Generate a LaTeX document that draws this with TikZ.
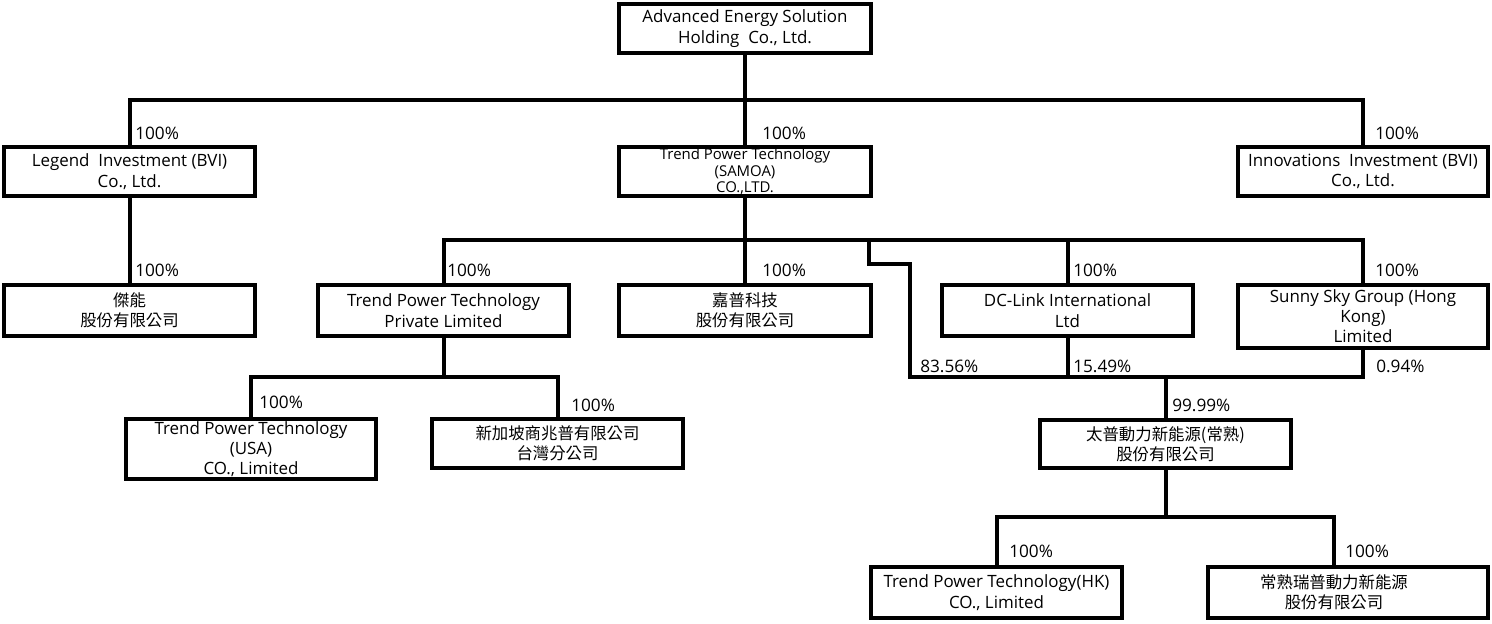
\documentclass[tikz,border=0pt]{standalone}
\usepackage{fontspec}
\setmainfont{Open Sans}
\newfontfamily\cjk{Noto Sans CJK TC}
\newcommand\mainfs{\fontsize{12.7}{15.3}\selectfont}
\newcommand\cjkfs{\cjk\fontsize{12.3}{15.3}\selectfont}
\begin{document}
\begin{tikzpicture}[x=0.75pt,y=-0.75pt,
  box/.style n args={2}{draw, line width=3pt, minimum width={(#1-4)*0.75pt}, minimum height={(#2-4)*0.75pt}, inner sep=0pt, align=center, font=\mainfs},
  cjkbox/.style n args={2}{box={#1}{#2}, font=\cjkfs},
  ln/.style={line width=3pt},
  pct/.style={anchor=west, inner sep=0pt, font=\fontsize{12.9}{14}\selectfont}]
\useasboundingbox (0,0) rectangle (1492,624);

% boxes
\node[box={256}{53}] (aes) at (745,28.5) {Advanced Energy Solution\\Holding\ \ Co., Ltd.};
\node[box={255}{53}] (leg) at (129.5,171.5) {Legend\ \ Investment (BVI)\\Co., Ltd.};
\node[box={256}{53}, font=\fontsize{11.2}{12.4}\selectfont] (samoa) at (745,171.5) {Trend Power Technology\\(SAMOA)\\CO.,LTD.};
\node[box={254}{53}] (inn) at (1363,171.5) {Innovations\ \ Investment (BVI)\\Co., Ltd.};
\node[cjkbox={255}{55}] (jie) at (129.5,310.5) {傑能\\股份有限公司};
\node[box={255}{55}] (tpp) at (443.5,310.5) {Trend Power Technology\\Private Limited};
\node[cjkbox={256}{55}] (jia) at (745,310.5) {嘉普科技\\股份有限公司};
\node[box={255}{55}] (dc) at (1067.5,310.5) {DC-Link International\\Ltd};
\node[box={254}{67}, font=\fontsize{12.7}{15}\selectfont] (sunny) at (1363,316.5) {Sunny Sky Group (Hong\\Kong)\\Limited};
\node[box={254}{64}, font=\fontsize{12.7}{15}\selectfont] (usa) at (251,449) {Trend Power Technology\\(USA)\\CO., Limited};
\node[cjkbox={255}{53}] (sg) at (557.5,443.5) {新加坡商兆普有限公司\\台灣分公司};
\node[cjkbox={255}{52}] (tai) at (1165.5,444) {太普動力新能源(常熟)\\股份有限公司};
\node[box={255}{55}] (hk) at (996.5,592.5) {Trend Power Technology(HK)\\CO., Limited};
\node[box={284}{55}] (cs) at (1348,592.5) {};
\node[inner sep=0pt, align=center, font=\cjkfs] (cst) at (1334,592.5) {常熟瑞普動力新能源\\股份有限公司};

% bus coordinates
\coordinate (b1) at (0,100);
\coordinate (b2) at (0,240);
\coordinate (b3) at (0,377);
\coordinate (b4) at (0,517);
\coordinate (j1) at (869,240);
\coordinate (j2) at (910,264);

% connectors
\draw[ln] (leg.north) -- (leg.north |- b1) -- (inn.north |- b1) -- (inn.north);
\draw[ln] (aes.south) -- (samoa.north);
\draw[ln] (leg.south) -- (jie.north);
\draw[ln] (tpp.north) -- (tpp.north |- b2) -- (sunny.north |- b2) -- (sunny.north);
\draw[ln] (samoa.south) -- (jia.north);
\draw[ln] (dc.north) -- (dc.north |- b2);
\draw[ln] (j1) |- (j2) |- (sunny.south |- b3) -- (sunny.south);
\draw[ln] (dc.south) -- (dc.south |- b3);
\draw[ln] (tai.north |- b3) -- (tai.north);
\draw[ln] (tai.south) -- (tai.south |- b4);
\draw[ln] (hk.north) -- (hk.north |- b4) -| (cst |- cs.north);
\draw[ln] (tpp.south) -- (tpp.south |- b3);
\draw[ln] (usa.north) -- (usa.north |- b3) -| (sg.north);

% percentages
\node[pct] (p1) at (135,133) {100\%};
\node[pct] (p2) at (762,133) {100\%};
\node[pct] (p3) at (1375,133) {100\%};
\node[pct] (p4) at (135,270) {100\%};
\node[pct] (p5) at (447,270) {100\%};
\node[pct] (p6) at (762,270) {100\%};
\node[pct] (p7) at (1073,270) {100\%};
\node[pct] (p8) at (1375,270) {100\%};
\node[pct] (p9) at (920,366) {83.56\%};
\node[pct] (p10) at (1073,366) {15.49\%};
\node[pct] (p11) at (1376,366) {0.94\%};
\node[pct] (p12) at (1172,405) {99.99\%};
\node[pct] (p13) at (259,402) {100\%};
\node[pct] (p14) at (571,405) {100\%};
\node[pct] (p15) at (1009,551) {100\%};
\node[pct] (p16) at (1345,551) {100\%};
\end{tikzpicture}
\end{document}
